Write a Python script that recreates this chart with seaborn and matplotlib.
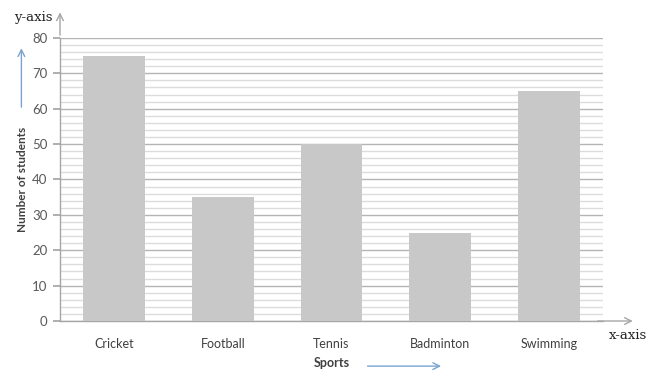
import numpy as np
import pandas as pd
import matplotlib.pyplot as plt
import seaborn as sns
from matplotlib.ticker import MultipleLocator
from matplotlib.patches import FancyArrowPatch

sports = ["Cricket", "Football", "Tennis", "Badminton", "Swimming"]
students = [75, 35, 50, 25, 65]

sns.set_theme(style="white")
plt.rcParams["font.family"] = ["Lato", "DejaVu Sans"]

df = pd.DataFrame({"Sports": sports, "Students": students})

fig = plt.figure(figsize=(6.48, 3.79), dpi=100)
ax = fig.add_axes([0.0926, 0.153, 0.838, 0.747])

sns.barplot(data=df, x="Sports", y="Students", color="#c8c8c8",
            width=0.57, saturation=1, edgecolor="none", linewidth=0,
            ax=ax, zorder=3)

ax.set_ylim(0, 80)
ax.set_xlim(-0.5, len(sports) - 0.5)
ax.yaxis.set_major_locator(MultipleLocator(10))
ax.yaxis.set_minor_locator(MultipleLocator(2))
ax.grid(which="major", axis="y", color="#b4b4b4", linewidth=1.0, zorder=0)
ax.grid(which="minor", axis="y", color="#dcdcdc", linewidth=1.0, zorder=0)
ax.set_axisbelow(True)

for s in ["top", "right"]:
    ax.spines[s].set_visible(False)
for s in ["left", "bottom"]:
    ax.spines[s].set_color("#a6a6a6")
    ax.spines[s].set_linewidth(1.0)

ax.tick_params(axis="y", which="major", left=True, length=5, color="#a6a6a6",
               labelsize=9.5, labelcolor="#595959", pad=4)
ax.tick_params(axis="y", which="minor", left=False)
ax.tick_params(axis="x", bottom=False, labelsize=9, labelcolor="#404040", pad=6)

ax.set_xlabel("Sports", fontsize=9, fontweight="bold", color="#404040", labelpad=5)
ax.set_ylabel("Number of students", fontsize=8.5, fontweight="bold",
              color="#404040", labelpad=3)

# axis arrows (gray)
ax.annotate("", xy=(0, 1.1), xytext=(0, 1.0), xycoords="axes fraction",
            arrowprops=dict(arrowstyle="->", color="#a6a6a6", lw=1.0))
ax.annotate("", xy=(1.06, 0), xytext=(0.985, 0), xycoords="axes fraction",
            arrowprops=dict(arrowstyle="->", color="#a6a6a6", lw=1.0))

fig.text(0.022, 0.945, "y-axis", family="DejaVu Serif", fontsize=9.5, color="#222222")
fig.text(0.94, 0.105, "x-axis", family="DejaVu Serif", fontsize=9.5, color="#222222")

# blue guide arrows
fig.add_artist(FancyArrowPatch(
    (0.033, 0.71), (0.033, 0.88), transform=fig.transFigure,
    arrowstyle="->", mutation_scale=12, color="#7ba3d0", lw=1.0))
fig.add_artist(FancyArrowPatch(
    (0.563, 0.034), (0.685, 0.034), transform=fig.transFigure,
    arrowstyle="->", mutation_scale=12, color="#7ba3d0", lw=1.0))

fig.savefig("out.png", dpi=100)
